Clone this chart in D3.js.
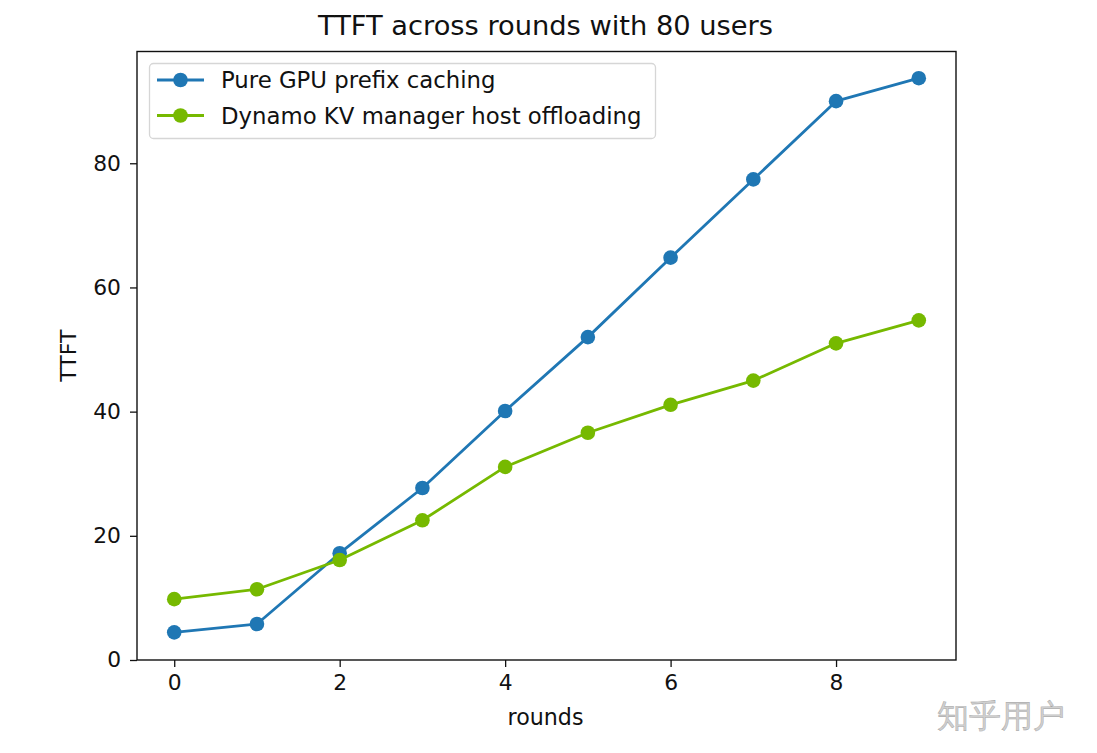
<!DOCTYPE html>
<html>
<head>
<meta charset="utf-8">
<script src="https://cdn.jsdelivr.net/npm/d3@7"></script>
<style>
  html, body { margin: 0; padding: 0; background: #fff; }
  svg { display: block; }
  text { font-family: "DejaVu Sans", sans-serif; }
</style>
</head>
<body>
<svg id="chart" width="1097" height="753"></svg>
<script>
const rounds = [0, 1, 2, 3, 4, 5, 6, 7, 8, 9];
const pureGPU = [4.45, 5.8, 17.2, 27.7, 40.1, 52.0, 64.8, 77.4, 90.0, 93.7];
const dynamoKV = [9.8, 11.4, 16.1, 22.5, 31.1, 36.6, 41.1, 45.0, 51.0, 54.7];
const seriesNames = ["Pure GPU prefix caching", "Dynamo KV manager host offloading"];
const seriesColors = ["#1f77b4", "#76b900"];
const xTicks = [0, 2, 4, 6, 8];
const yTicks = [0, 20, 40, 60, 80];
const titleText = "TTFT across rounds with 80 users";
const xLabel = "rounds";
const yLabel = "TTFT";
const watermark = "知乎用户";

const series = [pureGPU, dynamoKV].map((vals, i) => ({
  name: seriesNames[i], color: seriesColors[i],
  points: rounds.map((r, j) => ({ x: r, y: vals[j] }))
}));

const svg = d3.select("#chart");
const L = 137, R = 956, T = 51.5, B = 660;
const x = d3.scaleLinear().domain([-0.45, 9.45]).range([L, R]);
const y = d3.scaleLinear().domain([0, 98.0]).range([B, T]);

// title
svg.append("text").attr("x", (L + R) / 2 - 1).attr("y", 35)
  .attr("text-anchor", "middle").attr("font-size", 27.3).attr("fill", "#111")
  .attr("textLength", 455).attr("lengthAdjust", "spacing")
  .text(titleText);

// lines and markers
const line = d3.line().x(d => x(d.x)).y(d => y(d.y));
const g = svg.append("g");
series.forEach(s => {
  g.append("path").datum(s.points).attr("d", line)
    .attr("fill", "none").attr("stroke", s.color).attr("stroke-width", 2.8)
    .attr("stroke-linejoin", "round");
  g.selectAll(null).data(s.points).enter().append("circle")
    .attr("cx", d => x(d.x)).attr("cy", d => y(d.y)).attr("r", 7.3)
    .attr("fill", s.color);
});

// axes
const xAxis = d3.axisBottom(x).tickValues(xTicks).tickSize(7).tickPadding(8).tickFormat(d3.format("d"));
const yAxis = d3.axisLeft(y).tickValues(yTicks).tickSize(7).tickPadding(9).tickFormat(d3.format("d"));
const gx = svg.append("g").attr("transform", `translate(0,${B})`).call(xAxis);
const gy = svg.append("g").attr("transform", `translate(${L},0)`).call(yAxis);
[gx, gy].forEach(ax => {
  ax.select(".domain").remove();
  ax.selectAll(".tick line").attr("stroke", "#111").attr("stroke-width", 1.3);
  ax.selectAll(".tick text").attr("font-size", 21.8).attr("fill", "#111")
    .attr("font-family", "DejaVu Sans, sans-serif");
});

// frame
svg.append("rect").attr("x", L).attr("y", T).attr("width", R - L).attr("height", B - T)
  .attr("fill", "none").attr("stroke", "#111").attr("stroke-width", 1.4);

// axis labels
svg.append("text").attr("x", (L + R) / 2 - 1).attr("y", 725)
  .attr("text-anchor", "middle").attr("font-size", 22.2).attr("fill", "#111").text(xLabel);
svg.append("text").attr("transform", `translate(76,${(T + B) / 2}) rotate(-90)`)
  .attr("text-anchor", "middle").attr("font-size", 22).attr("fill", "#111").text(yLabel);

// legend
const lg = svg.append("g");
lg.append("rect").attr("x", 149.5).attr("y", 63.5).attr("width", 506).attr("height", 75)
  .attr("rx", 4).attr("fill", "#fff").attr("fill-opacity", 0.8)
  .attr("stroke", "#d6d6d6").attr("stroke-width", 1.3);
series.forEach((s, i) => {
  const cy = 80 + i * 35.5;
  lg.append("line").attr("x1", 157).attr("x2", 204).attr("y1", cy).attr("y2", cy)
    .attr("stroke", s.color).attr("stroke-width", 2.8);
  lg.append("circle").attr("cx", 180.5).attr("cy", cy).attr("r", 7.3).attr("fill", s.color);
  lg.append("text").attr("x", 221).attr("y", cy + 8).attr("font-size", 22.8)
    .attr("fill", "#111").text(s.name);
});

// watermark
svg.append("text").attr("x", 1065).attr("y", 727).attr("text-anchor", "end")
  .attr("font-size", 32).attr("font-family", "Noto Sans CJK SC")
  .attr("fill", "#cfcfcf").attr("stroke", "#a0a0a0").attr("stroke-width", 0.4)
  .text(watermark);
</script>
</body>
</html>
